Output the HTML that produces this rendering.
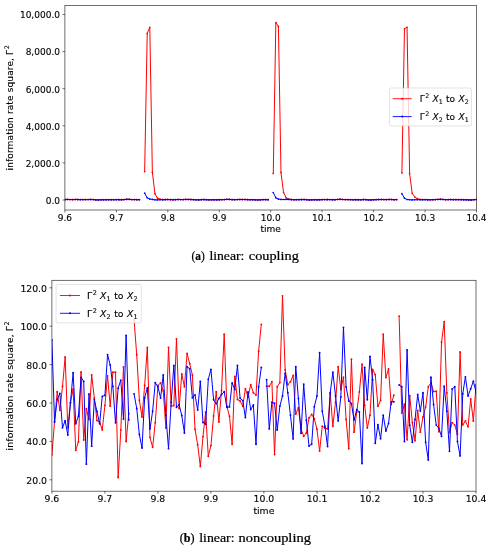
<!DOCTYPE html>
<html><head><meta charset="utf-8"><title>figure</title>
<style>html,body{margin:0;padding:0;background:#fff}svg{display:block}</style></head>
<body>
<svg width="489" height="550" viewBox="0 0 489 550" font-family="'DejaVu Sans','Liberation Sans',sans-serif" font-size="9.0" fill="#000">
<defs><clipPath id="c1"><rect x="64.9" y="5.5" width="411.6" height="204.5"/></clipPath><clipPath id="c2"><rect x="51.9" y="280.3" width="424.1" height="210.9"/></clipPath></defs>
<rect width="489" height="550" fill="#fff"/>
<g clip-path="url(#c1)" fill="none" stroke="#f00"><path d="M64.90 199.45 L67.47 199.31 L70.05 199.56 L72.62 199.66 L75.19 199.47 L77.76 199.39 L80.34 199.52 L82.91 199.62 L85.48 199.64 L88.05 199.51 L90.62 199.33 L93.20 199.50 L95.77 199.91 L98.34 199.98 L100.92 199.69 L103.49 199.58 L106.06 199.69 L108.63 199.75 L111.21 199.73 L113.78 199.62 L116.35 199.50 L118.92 199.63 L121.50 199.82 L124.07 199.60 L126.64 199.22 L129.21 199.25 L131.79 199.53 L134.36 199.67 L136.93 199.65 L139.50 199.54 M144.65 171.62 L147.22 33.45 L149.79 27.25 L152.37 172.22 L154.94 193.71 L157.51 198.22 L160.08 199.22 L162.66 199.66 L165.23 199.46 L167.80 199.44 L170.37 199.66 L172.95 199.78 L175.52 199.54 L178.09 199.34 L180.66 199.51 L183.24 199.63 L185.81 199.47 L188.38 199.34 L190.95 199.40 L193.53 199.61 L196.10 199.87 L198.67 199.88 L201.24 199.56 L203.82 199.44 L206.39 199.73 L208.96 199.89 L211.53 199.75 L214.11 199.65 L216.68 199.68 L219.25 199.72 L221.82 199.73 L224.40 199.55 L226.97 199.25 L229.54 199.32 L232.11 199.70 L234.69 199.76 L237.26 199.48 L239.83 199.36 L242.40 199.44 L244.98 199.58 L247.55 199.69 L250.12 199.65 L252.69 199.55 L255.27 199.73 L257.84 200.00 L260.41 199.85 L262.98 199.50 L265.56 199.48 L268.13 199.69 M273.27 173.44 L275.85 22.64 L278.42 26.40 L280.99 172.46 L283.56 192.51 L286.13 197.81 L288.71 199.07 L291.28 199.46 L293.85 199.73 L296.43 199.75 L299.00 199.61 L301.57 199.44 L304.14 199.44 L306.72 199.75 L309.29 199.98 L311.86 199.79 L314.43 199.59 L317.00 199.72 L319.58 199.82 L322.15 199.67 L324.72 199.50 L327.30 199.43 L329.87 199.52 L332.44 199.76 L335.01 199.74 L337.59 199.36 L340.16 199.19 L342.73 199.46 L345.30 199.66 L347.88 199.61 L350.45 199.56 L353.02 199.60 L355.59 199.71 L358.17 199.84 L360.74 199.75 L363.31 199.47 L365.88 199.54 L368.46 199.91 L371.03 199.98 L373.60 199.71 L376.17 199.50 L378.75 199.46 L381.32 199.53 L383.89 199.63 L386.46 199.53 L389.04 199.34 L391.61 199.47 L394.18 199.74 L396.75 199.64 M401.90 172.92 L404.47 28.74 L407.04 27.23 L409.62 173.48 L412.19 193.30 L414.76 197.00 L417.33 198.61 L419.91 199.41 L422.48 199.72 L425.05 199.50 L427.62 199.59 L430.20 199.76 L432.77 199.76 L435.34 199.59 L437.91 199.32 L440.49 199.21 L443.06 199.50 L445.63 199.75 L448.20 199.59 L450.78 199.40 L453.35 199.54 L455.92 199.69 L458.49 199.67 L461.07 199.61 L463.64 199.56 L466.21 199.67 L468.78 199.97 L471.36 200.01 L473.93 199.62 L476.50 199.40" stroke-width="1.0" stroke-linejoin="miter" stroke-miterlimit="10"/><path d="M64.90 199.45h0M67.47 199.31h0M70.05 199.56h0M72.62 199.66h0M75.19 199.47h0M77.76 199.39h0M80.34 199.52h0M82.91 199.62h0M85.48 199.64h0M88.05 199.51h0M90.62 199.33h0M93.20 199.50h0M95.77 199.91h0M98.34 199.98h0M100.92 199.69h0M103.49 199.58h0M106.06 199.69h0M108.63 199.75h0M111.21 199.73h0M113.78 199.62h0M116.35 199.50h0M118.92 199.63h0M121.50 199.82h0M124.07 199.60h0M126.64 199.22h0M129.21 199.25h0M131.79 199.53h0M134.36 199.67h0M136.93 199.65h0M139.50 199.54h0M144.65 171.62h0M147.22 33.45h0M149.79 27.25h0M152.37 172.22h0M154.94 193.71h0M157.51 198.22h0M160.08 199.22h0M162.66 199.66h0M165.23 199.46h0M167.80 199.44h0M170.37 199.66h0M172.95 199.78h0M175.52 199.54h0M178.09 199.34h0M180.66 199.51h0M183.24 199.63h0M185.81 199.47h0M188.38 199.34h0M190.95 199.40h0M193.53 199.61h0M196.10 199.87h0M198.67 199.88h0M201.24 199.56h0M203.82 199.44h0M206.39 199.73h0M208.96 199.89h0M211.53 199.75h0M214.11 199.65h0M216.68 199.68h0M219.25 199.72h0M221.82 199.73h0M224.40 199.55h0M226.97 199.25h0M229.54 199.32h0M232.11 199.70h0M234.69 199.76h0M237.26 199.48h0M239.83 199.36h0M242.40 199.44h0M244.98 199.58h0M247.55 199.69h0M250.12 199.65h0M252.69 199.55h0M255.27 199.73h0M257.84 200.00h0M260.41 199.85h0M262.98 199.50h0M265.56 199.48h0M268.13 199.69h0M273.27 173.44h0M275.85 22.64h0M278.42 26.40h0M280.99 172.46h0M283.56 192.51h0M286.13 197.81h0M288.71 199.07h0M291.28 199.46h0M293.85 199.73h0M296.43 199.75h0M299.00 199.61h0M301.57 199.44h0M304.14 199.44h0M306.72 199.75h0M309.29 199.98h0M311.86 199.79h0M314.43 199.59h0M317.00 199.72h0M319.58 199.82h0M322.15 199.67h0M324.72 199.50h0M327.30 199.43h0M329.87 199.52h0M332.44 199.76h0M335.01 199.74h0M337.59 199.36h0M340.16 199.19h0M342.73 199.46h0M345.30 199.66h0M347.88 199.61h0M350.45 199.56h0M353.02 199.60h0M355.59 199.71h0M358.17 199.84h0M360.74 199.75h0M363.31 199.47h0M365.88 199.54h0M368.46 199.91h0M371.03 199.98h0M373.60 199.71h0M376.17 199.50h0M378.75 199.46h0M381.32 199.53h0M383.89 199.63h0M386.46 199.53h0M389.04 199.34h0M391.61 199.47h0M394.18 199.74h0M396.75 199.64h0M401.90 172.92h0M404.47 28.74h0M407.04 27.23h0M409.62 173.48h0M412.19 193.30h0M414.76 197.00h0M417.33 198.61h0M419.91 199.41h0M422.48 199.72h0M425.05 199.50h0M427.62 199.59h0M430.20 199.76h0M432.77 199.76h0M435.34 199.59h0M437.91 199.32h0M440.49 199.21h0M443.06 199.50h0M445.63 199.75h0M448.20 199.59h0M450.78 199.40h0M453.35 199.54h0M455.92 199.69h0M458.49 199.67h0M461.07 199.61h0M463.64 199.56h0M466.21 199.67h0M468.78 199.97h0M471.36 200.01h0M473.93 199.62h0M476.50 199.40h0" stroke-width="1.7" stroke-linecap="round"/></g>
<g clip-path="url(#c1)" fill="none" stroke="#00f"><path d="M64.90 199.65 L67.47 199.49 L70.05 199.51 L72.62 199.52 L75.19 199.49 L77.76 199.60 L80.34 199.66 L82.91 199.55 L85.48 199.51 L88.05 199.57 L90.62 199.55 L93.20 199.61 L95.77 199.81 L98.34 199.86 L100.92 199.79 L103.49 199.80 L106.06 199.76 L108.63 199.62 L111.21 199.65 L113.78 199.76 L116.35 199.71 L118.92 199.67 L121.50 199.68 L124.07 199.54 L126.64 199.39 L129.21 199.45 L131.79 199.53 L134.36 199.52 L136.93 199.64 L139.50 199.73 M144.65 193.16 L147.22 197.81 L149.79 199.04 L152.37 199.41 L154.94 199.87 L157.51 199.90 L160.08 199.77 L162.66 199.72 L165.23 199.69 L167.80 199.55 L170.37 199.55 L172.95 199.67 L175.52 199.64 L178.09 199.57 L180.66 199.59 L183.24 199.51 L185.81 199.39 L188.38 199.48 L190.95 199.62 L193.53 199.64 L196.10 199.73 L198.67 199.82 L201.24 199.72 L203.82 199.64 L206.39 199.72 L208.96 199.74 L211.53 199.73 L214.11 199.84 L216.68 199.85 L219.25 199.68 L221.82 199.59 L224.40 199.57 L226.97 199.47 L229.54 199.47 L232.11 199.62 L234.69 199.62 L237.26 199.54 L239.83 199.58 L242.40 199.55 L244.98 199.47 L247.55 199.58 L250.12 199.75 L252.69 199.77 L255.27 199.81 L257.84 199.87 L260.41 199.76 L262.98 199.64 L265.56 199.69 L268.13 199.72 M273.27 192.51 L275.85 197.81 L278.42 199.07 L280.99 199.44 L283.56 199.49 L286.13 199.44 L288.71 199.47 L291.28 199.64 L293.85 199.69 L296.43 199.61 L299.00 199.63 L301.57 199.65 L304.14 199.59 L306.72 199.68 L309.29 199.85 L311.86 199.85 L314.43 199.81 L317.00 199.83 L319.58 199.71 L322.15 199.55 L324.72 199.60 L327.30 199.65 L329.87 199.60 L332.44 199.63 L335.01 199.65 L337.59 199.50 L340.16 199.41 L342.73 199.49 L345.30 199.52 L347.88 199.55 L350.45 199.73 L353.02 199.80 L355.59 199.70 L358.17 199.70 L360.74 199.73 L363.31 199.67 L365.88 199.71 L368.46 199.86 L371.03 199.84 L373.60 199.73 L376.17 199.71 L378.75 199.61 L381.32 199.45 L383.89 199.50 L386.46 199.60 L389.04 199.56 L391.61 199.58 L394.18 199.63 L396.75 199.52 M401.90 193.69 L404.47 198.20 L407.04 199.50 L409.62 199.74 L412.19 199.89 L414.76 199.75 L417.33 199.70 L419.91 199.73 L422.48 199.67 L425.05 199.67 L427.62 199.79 L430.20 199.76 L432.77 199.61 L435.34 199.57 L437.91 199.51 L440.49 199.39 L443.06 199.46 L445.63 199.61 L448.20 199.61 L450.78 199.61 L453.35 199.69 L455.92 199.62 L458.49 199.54 L461.07 199.67 L463.64 199.78 L466.21 199.78 L468.78 199.86 L471.36 199.89 L473.93 199.73 L476.50 199.62" stroke-width="1.0" stroke-linejoin="miter" stroke-miterlimit="10"/><path d="M64.90 199.65h0M67.47 199.49h0M70.05 199.51h0M72.62 199.52h0M75.19 199.49h0M77.76 199.60h0M80.34 199.66h0M82.91 199.55h0M85.48 199.51h0M88.05 199.57h0M90.62 199.55h0M93.20 199.61h0M95.77 199.81h0M98.34 199.86h0M100.92 199.79h0M103.49 199.80h0M106.06 199.76h0M108.63 199.62h0M111.21 199.65h0M113.78 199.76h0M116.35 199.71h0M118.92 199.67h0M121.50 199.68h0M124.07 199.54h0M126.64 199.39h0M129.21 199.45h0M131.79 199.53h0M134.36 199.52h0M136.93 199.64h0M139.50 199.73h0M144.65 193.16h0M147.22 197.81h0M149.79 199.04h0M152.37 199.41h0M154.94 199.87h0M157.51 199.90h0M160.08 199.77h0M162.66 199.72h0M165.23 199.69h0M167.80 199.55h0M170.37 199.55h0M172.95 199.67h0M175.52 199.64h0M178.09 199.57h0M180.66 199.59h0M183.24 199.51h0M185.81 199.39h0M188.38 199.48h0M190.95 199.62h0M193.53 199.64h0M196.10 199.73h0M198.67 199.82h0M201.24 199.72h0M203.82 199.64h0M206.39 199.72h0M208.96 199.74h0M211.53 199.73h0M214.11 199.84h0M216.68 199.85h0M219.25 199.68h0M221.82 199.59h0M224.40 199.57h0M226.97 199.47h0M229.54 199.47h0M232.11 199.62h0M234.69 199.62h0M237.26 199.54h0M239.83 199.58h0M242.40 199.55h0M244.98 199.47h0M247.55 199.58h0M250.12 199.75h0M252.69 199.77h0M255.27 199.81h0M257.84 199.87h0M260.41 199.76h0M262.98 199.64h0M265.56 199.69h0M268.13 199.72h0M273.27 192.51h0M275.85 197.81h0M278.42 199.07h0M280.99 199.44h0M283.56 199.49h0M286.13 199.44h0M288.71 199.47h0M291.28 199.64h0M293.85 199.69h0M296.43 199.61h0M299.00 199.63h0M301.57 199.65h0M304.14 199.59h0M306.72 199.68h0M309.29 199.85h0M311.86 199.85h0M314.43 199.81h0M317.00 199.83h0M319.58 199.71h0M322.15 199.55h0M324.72 199.60h0M327.30 199.65h0M329.87 199.60h0M332.44 199.63h0M335.01 199.65h0M337.59 199.50h0M340.16 199.41h0M342.73 199.49h0M345.30 199.52h0M347.88 199.55h0M350.45 199.73h0M353.02 199.80h0M355.59 199.70h0M358.17 199.70h0M360.74 199.73h0M363.31 199.67h0M365.88 199.71h0M368.46 199.86h0M371.03 199.84h0M373.60 199.73h0M376.17 199.71h0M378.75 199.61h0M381.32 199.45h0M383.89 199.50h0M386.46 199.60h0M389.04 199.56h0M391.61 199.58h0M394.18 199.63h0M396.75 199.52h0M401.90 193.69h0M404.47 198.20h0M407.04 199.50h0M409.62 199.74h0M412.19 199.89h0M414.76 199.75h0M417.33 199.70h0M419.91 199.73h0M422.48 199.67h0M425.05 199.67h0M427.62 199.79h0M430.20 199.76h0M432.77 199.61h0M435.34 199.57h0M437.91 199.51h0M440.49 199.39h0M443.06 199.46h0M445.63 199.61h0M448.20 199.61h0M450.78 199.61h0M453.35 199.69h0M455.92 199.62h0M458.49 199.54h0M461.07 199.67h0M463.64 199.78h0M466.21 199.78h0M468.78 199.86h0M471.36 199.89h0M473.93 199.73h0M476.50 199.62h0" stroke-width="1.7" stroke-linecap="round"/></g>
<g font-size="9.0" stroke="#000" stroke-width="0.12"><rect x="64.9" y="5.5" width="411.6" height="204.5" fill="none" stroke="#000" stroke-opacity="0.8" stroke-width="0.7"/>
<text x="64.9" y="220.8" text-anchor="middle">9.6</text><text x="116.4" y="220.8" text-anchor="middle">9.7</text><text x="167.8" y="220.8" text-anchor="middle">9.8</text><text x="219.3" y="220.8" text-anchor="middle">9.9</text><text x="270.7" y="220.8" text-anchor="middle">10.0</text><text x="322.1" y="220.8" text-anchor="middle">10.1</text><text x="373.6" y="220.8" text-anchor="middle">10.2</text><text x="425.1" y="220.8" text-anchor="middle">10.3</text><text x="476.5" y="220.8" text-anchor="middle">10.4</text><text x="60.0" y="203.8" text-anchor="end">0.0</text><text x="60.0" y="166.7" text-anchor="end">2,000.0</text><text x="60.0" y="129.6" text-anchor="end">4,000.0</text><text x="60.0" y="92.5" text-anchor="end">6,000.0</text><text x="60.0" y="55.4" text-anchor="end">8,000.0</text><text x="60.0" y="18.3" text-anchor="end">10,000.0</text>
<path d="M64.9 210.0v2.4M116.4 210.0v2.4M167.8 210.0v2.4M219.3 210.0v2.4M270.7 210.0v2.4M322.1 210.0v2.4M373.6 210.0v2.4M425.1 210.0v2.4M476.5 210.0v2.4M64.9 200.0h-2.4M64.9 162.9h-2.4M64.9 125.8h-2.4M64.9 88.7h-2.4M64.9 51.6h-2.4M64.9 14.5h-2.4" stroke="#000" stroke-opacity="0.8" stroke-width="0.7" fill="none"/>
<text x="270.7" y="232.2" text-anchor="middle">time</text>
<text transform="translate(12.7 107.8) rotate(-90)" text-anchor="middle" letter-spacing="0.13">information rate square, Γ<tspan font-size="6.30" dy="-3.42" dx="0.5">2</tspan></text>
</g>
<g font-size="9.0"><rect x="389.4" y="88" width="82" height="37.9" rx="1.6" fill="#fff" fill-opacity="0.8" stroke="#ccc" stroke-opacity="0.8" stroke-width="0.7"/>
<path d="M392.7 98.7H411.7" stroke="#f00" stroke-width="0.9"/><path d="M402.2 98.7h0" stroke="#f00" stroke-width="2" stroke-linecap="round"/><text x="419.7" y="101.9" stroke="#000" stroke-width="0.12">Γ<tspan font-size="6.30" dy="-3.50" dx="0.60">2</tspan><tspan dy="3.50" dx="3.10" font-style="italic">X</tspan><tspan font-size="6.30" dy="1.90" dx="0.1">1</tspan><tspan dy="-1.90" dx="0.50"> to </tspan><tspan font-style="italic" dx="0.60">X</tspan><tspan font-size="6.30" dy="1.90" dx="0.1">2</tspan></text>
<path d="M392.7 116.6H411.7" stroke="#00f" stroke-width="0.9"/><path d="M402.2 116.6h0" stroke="#00f" stroke-width="2" stroke-linecap="round"/><text x="419.7" y="119.8" stroke="#000" stroke-width="0.12">Γ<tspan font-size="6.30" dy="-3.50" dx="0.60">2</tspan><tspan dy="3.50" dx="3.10" font-style="italic">X</tspan><tspan font-size="6.30" dy="1.90" dx="0.1">2</tspan><tspan dy="-1.90" dx="0.50"> to </tspan><tspan font-style="italic" dx="0.60">X</tspan><tspan font-size="6.30" dy="1.90" dx="0.1">1</tspan></text>
</g>
<g clip-path="url(#c2)" fill="none" stroke="#f00"><path d="M51.90 454.77 L54.55 421.45 L57.20 391.77 L59.85 410.34 L62.50 386.41 L65.15 356.91 L67.80 427.77 L70.45 402.49 L73.11 389.28 L75.76 450.37 L78.41 441.75 L81.06 372.04 L83.71 440.03 L86.36 408.81 L89.01 419.54 L91.66 374.92 L94.31 397.90 L96.96 420.49 L99.61 422.02 L102.26 429.88 L104.91 405.36 L107.56 375.87 L110.21 406.13 L112.86 372.23 L115.52 372.23 L118.17 477.56 L120.82 429.88 L123.47 367.06 L126.12 441.56 L128.77 413.41 M134.07 319.96 L136.72 354.81 L139.37 400.19 L142.02 417.05 L144.67 385.45 L147.32 347.53 L149.97 437.34 L152.62 447.30 L155.27 422.79 L157.93 385.45 L160.58 382.96 L163.23 390.81 L165.88 427.96 L168.53 347.53 L171.18 406.32 L173.83 405.56 L176.48 338.91 L179.13 408.43 L181.78 373.96 L184.43 386.79 L187.08 353.47 L189.73 363.81 L192.38 374.92 L195.03 429.30 L197.68 444.81 L200.34 466.45 L202.99 436.58 L205.64 411.88 L208.29 456.30 L210.94 445.58 L213.59 415.90 L216.24 391.77 L218.89 422.02 L221.54 390.43 L224.19 334.13 L226.84 406.13 L229.49 416.28 L232.14 444.24 L234.79 376.45 L237.44 399.43 L240.09 400.96 L242.75 406.32 L245.40 388.70 L248.05 396.94 L250.70 384.68 L253.35 392.73 L256.00 395.02 L258.65 351.17 L261.30 324.36 M266.60 386.21 L269.25 386.21 L271.90 381.81 L274.55 454.58 L277.20 386.79 L279.85 382.58 L282.50 295.83 L285.16 369.94 L287.81 384.68 L290.46 381.81 L293.11 375.49 L295.76 414.17 L298.41 407.66 L301.06 429.11 L303.71 436.20 L306.36 432.94 L309.01 417.81 L311.66 414.56 L314.31 418.58 L316.96 429.30 L319.61 450.94 L322.26 426.24 L324.91 427.96 L327.56 428.92 L330.22 393.68 L332.87 426.24 L335.52 402.30 L338.17 366.68 L340.82 389.47 L343.47 377.21 L346.12 419.54 L348.77 448.83 L351.42 359.21 L354.07 432.17 L356.72 412.07 L359.37 391.96 L362.02 364.19 L364.67 405.36 L367.32 427.96 L369.98 415.32 L372.63 369.36 L375.28 374.72 L377.93 406.32 L380.58 400.38 L383.23 334.32 L385.88 377.60 L388.53 368.98 L391.18 404.41 L393.83 395.21 M399.13 316.12 L401.78 413.02 L404.43 404.22 L407.08 439.83 L409.73 395.60 L412.38 422.79 L415.04 440.79 L417.69 410.34 L420.34 432.17 L422.99 417.05 L425.64 407.09 L428.29 386.79 L430.94 382.96 L433.59 391.58 L436.24 391.19 L438.89 431.79 L441.54 342.17 L444.19 321.68 L446.84 392.92 L449.49 432.56 L452.14 422.79 L454.80 425.09 L457.45 434.28 L460.10 351.94 L462.75 424.90 L465.40 421.07 L468.05 426.81 L470.70 399.04 L473.35 421.07 L476.00 385.06" stroke-width="1.0" stroke-linejoin="miter" stroke-miterlimit="10"/><path d="M51.90 454.77h0M54.55 421.45h0M57.20 391.77h0M59.85 410.34h0M62.50 386.41h0M65.15 356.91h0M67.80 427.77h0M70.45 402.49h0M73.11 389.28h0M75.76 450.37h0M78.41 441.75h0M81.06 372.04h0M83.71 440.03h0M86.36 408.81h0M89.01 419.54h0M91.66 374.92h0M94.31 397.90h0M96.96 420.49h0M99.61 422.02h0M102.26 429.88h0M104.91 405.36h0M107.56 375.87h0M110.21 406.13h0M112.86 372.23h0M115.52 372.23h0M118.17 477.56h0M120.82 429.88h0M123.47 367.06h0M126.12 441.56h0M128.77 413.41h0M134.07 319.96h0M136.72 354.81h0M139.37 400.19h0M142.02 417.05h0M144.67 385.45h0M147.32 347.53h0M149.97 437.34h0M152.62 447.30h0M155.27 422.79h0M157.93 385.45h0M160.58 382.96h0M163.23 390.81h0M165.88 427.96h0M168.53 347.53h0M171.18 406.32h0M173.83 405.56h0M176.48 338.91h0M179.13 408.43h0M181.78 373.96h0M184.43 386.79h0M187.08 353.47h0M189.73 363.81h0M192.38 374.92h0M195.03 429.30h0M197.68 444.81h0M200.34 466.45h0M202.99 436.58h0M205.64 411.88h0M208.29 456.30h0M210.94 445.58h0M213.59 415.90h0M216.24 391.77h0M218.89 422.02h0M221.54 390.43h0M224.19 334.13h0M226.84 406.13h0M229.49 416.28h0M232.14 444.24h0M234.79 376.45h0M237.44 399.43h0M240.09 400.96h0M242.75 406.32h0M245.40 388.70h0M248.05 396.94h0M250.70 384.68h0M253.35 392.73h0M256.00 395.02h0M258.65 351.17h0M261.30 324.36h0M266.60 386.21h0M269.25 386.21h0M271.90 381.81h0M274.55 454.58h0M277.20 386.79h0M279.85 382.58h0M282.50 295.83h0M285.16 369.94h0M287.81 384.68h0M290.46 381.81h0M293.11 375.49h0M295.76 414.17h0M298.41 407.66h0M301.06 429.11h0M303.71 436.20h0M306.36 432.94h0M309.01 417.81h0M311.66 414.56h0M314.31 418.58h0M316.96 429.30h0M319.61 450.94h0M322.26 426.24h0M324.91 427.96h0M327.56 428.92h0M330.22 393.68h0M332.87 426.24h0M335.52 402.30h0M338.17 366.68h0M340.82 389.47h0M343.47 377.21h0M346.12 419.54h0M348.77 448.83h0M351.42 359.21h0M354.07 432.17h0M356.72 412.07h0M359.37 391.96h0M362.02 364.19h0M364.67 405.36h0M367.32 427.96h0M369.98 415.32h0M372.63 369.36h0M375.28 374.72h0M377.93 406.32h0M380.58 400.38h0M383.23 334.32h0M385.88 377.60h0M388.53 368.98h0M391.18 404.41h0M393.83 395.21h0M399.13 316.12h0M401.78 413.02h0M404.43 404.22h0M407.08 439.83h0M409.73 395.60h0M412.38 422.79h0M415.04 440.79h0M417.69 410.34h0M420.34 432.17h0M422.99 417.05h0M425.64 407.09h0M428.29 386.79h0M430.94 382.96h0M433.59 391.58h0M436.24 391.19h0M438.89 431.79h0M441.54 342.17h0M444.19 321.68h0M446.84 392.92h0M449.49 432.56h0M452.14 422.79h0M454.80 425.09h0M457.45 434.28h0M460.10 351.94h0M462.75 424.90h0M465.40 421.07h0M468.05 426.81h0M470.70 399.04h0M473.35 421.07h0M476.00 385.06h0" stroke-width="1.9" stroke-linecap="round"/></g>
<g clip-path="url(#c2)" fill="none" stroke="#00f"><path d="M51.90 340.06 L54.55 422.02 L57.20 399.43 L59.85 393.49 L62.50 427.77 L65.15 420.68 L67.80 435.05 L70.45 402.87 L73.11 372.81 L75.76 423.75 L78.41 416.28 L81.06 377.41 L83.71 381.43 L86.36 464.15 L89.01 394.07 L91.66 446.15 L94.31 399.62 L96.96 411.49 L99.61 423.75 L102.26 396.36 L104.91 395.41 L107.56 354.62 L110.21 364.96 L112.86 386.41 L115.52 422.79 L118.17 388.13 L120.82 380.09 L123.47 418.96 L126.12 335.47 L128.77 419.92 M134.07 393.87 L136.72 408.43 L139.37 434.47 L142.02 448.07 L144.67 397.70 L147.32 387.94 L149.97 428.92 L152.62 411.30 L155.27 382.77 L157.93 386.79 L160.58 398.09 L163.23 374.92 L165.88 415.51 L168.53 448.64 L171.18 402.30 L173.83 365.53 L176.48 407.28 L179.13 404.79 L181.78 415.51 L184.43 432.94 L187.08 366.68 L189.73 368.79 L192.38 397.70 L195.03 395.02 L197.68 409.96 L200.34 381.43 L202.99 422.41 L205.64 424.32 L208.29 379.32 L210.94 369.36 L213.59 399.81 L216.24 403.83 L218.89 398.47 L221.54 394.45 L224.19 391.77 L226.84 407.28 L229.49 406.90 L232.14 382.96 L234.79 389.47 L237.44 365.53 L240.09 398.28 L242.75 400.58 L245.40 417.43 L248.05 391.96 L250.70 409.58 L253.35 404.98 L256.00 444.24 L258.65 386.79 L261.30 367.45 M266.60 379.70 L269.25 428.92 L271.90 402.30 L274.55 403.26 L277.20 430.07 L279.85 406.13 L282.50 395.98 L285.16 373.19 L287.81 392.73 L290.46 415.32 L293.11 438.88 L295.76 366.68 L298.41 398.47 L301.06 433.32 L303.71 384.11 L306.36 420.30 L309.01 445.96 L311.66 444.24 L314.31 406.70 L316.96 395.98 L319.61 352.70 L322.26 411.30 L324.91 426.24 L327.56 446.54 L330.22 392.73 L332.87 372.23 L335.52 395.98 L338.17 420.88 L340.82 396.94 L343.47 327.42 L346.12 386.98 L348.77 400.96 L351.42 403.45 L354.07 419.92 L356.72 409.58 L359.37 412.07 L362.02 463.58 L364.67 367.45 L367.32 399.81 L369.98 356.34 L372.63 379.70 L375.28 443.28 L377.93 424.71 L380.58 438.69 L383.23 415.32 L385.88 431.03 L388.53 423.56 L391.18 401.92 L393.83 401.73 M399.13 385.06 L401.78 386.79 L404.43 441.56 L407.08 349.83 L409.73 425.28 L412.38 442.32 L415.04 419.54 L417.69 394.45 L420.34 411.11 L422.99 392.73 L425.64 442.32 L428.29 459.94 L430.94 377.21 L433.59 404.41 L436.24 425.09 L438.89 428.34 L441.54 436.39 L444.19 386.21 L446.84 411.30 L449.49 451.32 L452.14 388.89 L454.80 386.79 L457.45 441.56 L460.10 455.92 L462.75 393.68 L465.40 376.83 L468.05 395.98 L470.70 388.70 L473.35 381.24 L476.00 391.96" stroke-width="1.0" stroke-linejoin="miter" stroke-miterlimit="10"/><path d="M51.90 340.06h0M54.55 422.02h0M57.20 399.43h0M59.85 393.49h0M62.50 427.77h0M65.15 420.68h0M67.80 435.05h0M70.45 402.87h0M73.11 372.81h0M75.76 423.75h0M78.41 416.28h0M81.06 377.41h0M83.71 381.43h0M86.36 464.15h0M89.01 394.07h0M91.66 446.15h0M94.31 399.62h0M96.96 411.49h0M99.61 423.75h0M102.26 396.36h0M104.91 395.41h0M107.56 354.62h0M110.21 364.96h0M112.86 386.41h0M115.52 422.79h0M118.17 388.13h0M120.82 380.09h0M123.47 418.96h0M126.12 335.47h0M128.77 419.92h0M134.07 393.87h0M136.72 408.43h0M139.37 434.47h0M142.02 448.07h0M144.67 397.70h0M147.32 387.94h0M149.97 428.92h0M152.62 411.30h0M155.27 382.77h0M157.93 386.79h0M160.58 398.09h0M163.23 374.92h0M165.88 415.51h0M168.53 448.64h0M171.18 402.30h0M173.83 365.53h0M176.48 407.28h0M179.13 404.79h0M181.78 415.51h0M184.43 432.94h0M187.08 366.68h0M189.73 368.79h0M192.38 397.70h0M195.03 395.02h0M197.68 409.96h0M200.34 381.43h0M202.99 422.41h0M205.64 424.32h0M208.29 379.32h0M210.94 369.36h0M213.59 399.81h0M216.24 403.83h0M218.89 398.47h0M221.54 394.45h0M224.19 391.77h0M226.84 407.28h0M229.49 406.90h0M232.14 382.96h0M234.79 389.47h0M237.44 365.53h0M240.09 398.28h0M242.75 400.58h0M245.40 417.43h0M248.05 391.96h0M250.70 409.58h0M253.35 404.98h0M256.00 444.24h0M258.65 386.79h0M261.30 367.45h0M266.60 379.70h0M269.25 428.92h0M271.90 402.30h0M274.55 403.26h0M277.20 430.07h0M279.85 406.13h0M282.50 395.98h0M285.16 373.19h0M287.81 392.73h0M290.46 415.32h0M293.11 438.88h0M295.76 366.68h0M298.41 398.47h0M301.06 433.32h0M303.71 384.11h0M306.36 420.30h0M309.01 445.96h0M311.66 444.24h0M314.31 406.70h0M316.96 395.98h0M319.61 352.70h0M322.26 411.30h0M324.91 426.24h0M327.56 446.54h0M330.22 392.73h0M332.87 372.23h0M335.52 395.98h0M338.17 420.88h0M340.82 396.94h0M343.47 327.42h0M346.12 386.98h0M348.77 400.96h0M351.42 403.45h0M354.07 419.92h0M356.72 409.58h0M359.37 412.07h0M362.02 463.58h0M364.67 367.45h0M367.32 399.81h0M369.98 356.34h0M372.63 379.70h0M375.28 443.28h0M377.93 424.71h0M380.58 438.69h0M383.23 415.32h0M385.88 431.03h0M388.53 423.56h0M391.18 401.92h0M393.83 401.73h0M399.13 385.06h0M401.78 386.79h0M404.43 441.56h0M407.08 349.83h0M409.73 425.28h0M412.38 442.32h0M415.04 419.54h0M417.69 394.45h0M420.34 411.11h0M422.99 392.73h0M425.64 442.32h0M428.29 459.94h0M430.94 377.21h0M433.59 404.41h0M436.24 425.09h0M438.89 428.34h0M441.54 436.39h0M444.19 386.21h0M446.84 411.30h0M449.49 451.32h0M452.14 388.89h0M454.80 386.79h0M457.45 441.56h0M460.10 455.92h0M462.75 393.68h0M465.40 376.83h0M468.05 395.98h0M470.70 388.70h0M473.35 381.24h0M476.00 391.96h0" stroke-width="1.9" stroke-linecap="round"/></g>
<g font-size="9.3" stroke="#000" stroke-width="0.12"><rect x="51.9" y="280.3" width="424.1" height="210.9" fill="none" stroke="#000" stroke-opacity="0.8" stroke-width="0.7"/>
<text x="51.9" y="502.3" text-anchor="middle">9.6</text><text x="104.9" y="502.3" text-anchor="middle">9.7</text><text x="157.9" y="502.3" text-anchor="middle">9.8</text><text x="210.9" y="502.3" text-anchor="middle">9.9</text><text x="263.9" y="502.3" text-anchor="middle">10.0</text><text x="317.0" y="502.3" text-anchor="middle">10.1</text><text x="370.0" y="502.3" text-anchor="middle">10.2</text><text x="423.0" y="502.3" text-anchor="middle">10.3</text><text x="476.0" y="502.3" text-anchor="middle">10.4</text><text x="47.0" y="483.7" text-anchor="end">20.0</text><text x="47.0" y="445.3" text-anchor="end">40.0</text><text x="47.0" y="406.9" text-anchor="end">60.0</text><text x="47.0" y="368.5" text-anchor="end">80.0</text><text x="47.0" y="330.1" text-anchor="end">100.0</text><text x="47.0" y="291.7" text-anchor="end">120.0</text>
<path d="M51.9 491.2v2.4M104.9 491.2v2.4M157.9 491.2v2.4M210.9 491.2v2.4M263.9 491.2v2.4M317.0 491.2v2.4M370.0 491.2v2.4M423.0 491.2v2.4M476.0 491.2v2.4M51.9 479.8h-2.4M51.9 441.4h-2.4M51.9 403.0h-2.4M51.9 364.6h-2.4M51.9 326.2h-2.4M51.9 287.8h-2.4" stroke="#000" stroke-opacity="0.8" stroke-width="0.7" fill="none"/>
<text x="263.9" y="514.2" text-anchor="middle">time</text>
<text transform="translate(12.7 385.8) rotate(-90)" text-anchor="middle" letter-spacing="0.13">information rate square, Γ<tspan font-size="6.51" dy="-3.53" dx="0.5">2</tspan></text>
</g>
<g font-size="9.3"><rect x="56.1" y="284.4" width="85.2" height="38.5" rx="1.6" fill="#fff" fill-opacity="0.8" stroke="#ccc" stroke-opacity="0.8" stroke-width="0.7"/>
<path d="M59.9 295.5H80" stroke="#f00" stroke-width="0.9"/><path d="M70.0 295.5h0" stroke="#f00" stroke-width="2" stroke-linecap="round"/><text x="86.9" y="298.8" stroke="#000" stroke-width="0.12">Γ<tspan font-size="6.51" dy="-3.62" dx="0.62">2</tspan><tspan dy="3.62" dx="3.20" font-style="italic">X</tspan><tspan font-size="6.51" dy="1.96" dx="0.1">1</tspan><tspan dy="-1.96" dx="0.52"> to </tspan><tspan font-style="italic" dx="0.62">X</tspan><tspan font-size="6.51" dy="1.96" dx="0.1">2</tspan></text>
<path d="M59.9 313.3H80" stroke="#00f" stroke-width="0.9"/><path d="M70.0 313.3h0" stroke="#00f" stroke-width="2" stroke-linecap="round"/><text x="86.9" y="316.6" stroke="#000" stroke-width="0.12">Γ<tspan font-size="6.51" dy="-3.62" dx="0.62">2</tspan><tspan dy="3.62" dx="3.20" font-style="italic">X</tspan><tspan font-size="6.51" dy="1.96" dx="0.1">2</tspan><tspan dy="-1.96" dx="0.52"> to </tspan><tspan font-style="italic" dx="0.62">X</tspan><tspan font-size="6.51" dy="1.96" dx="0.1">1</tspan></text>
</g>
<g font-family="'Liberation Serif',serif" font-size="12.5" stroke="#000" stroke-width="0.22"><text x="191.5" y="260.4" textLength="13.2" lengthAdjust="spacingAndGlyphs">(<tspan font-weight="bold">a</tspan>)</text><text x="209.4" y="260.4" textLength="35.0" lengthAdjust="spacingAndGlyphs">linear:</text><text x="248.8" y="260.4" textLength="50.0" lengthAdjust="spacingAndGlyphs">coupling</text></g>
<g font-family="'Liberation Serif',serif" font-size="12.5" stroke="#000" stroke-width="0.22"><text x="179.8" y="542.4" textLength="14.8" lengthAdjust="spacingAndGlyphs">(<tspan font-weight="bold">b</tspan>)</text><text x="199.2" y="542.4" textLength="35.4" lengthAdjust="spacingAndGlyphs">linear:</text><text x="238.5" y="542.4" textLength="72.4" lengthAdjust="spacingAndGlyphs">noncoupling</text></g>
</svg>
</body></html>
